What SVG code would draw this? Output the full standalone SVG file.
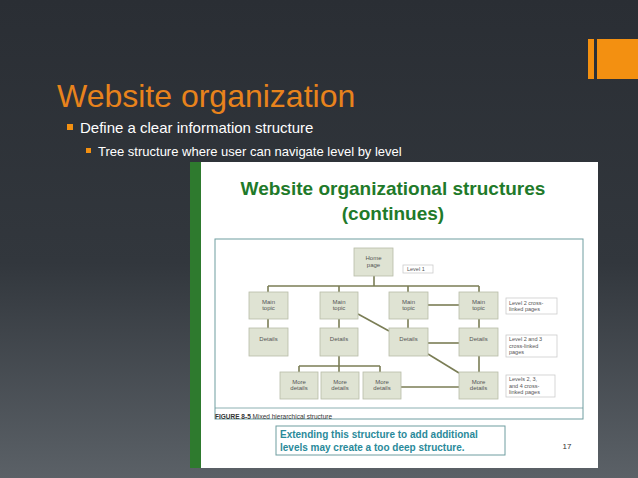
<svg xmlns="http://www.w3.org/2000/svg" width="638" height="478" viewBox="0 0 638 478">
<defs>
<linearGradient id="bg" x1="0" y1="0" x2="0" y2="1"><stop offset="0" stop-color="#2a2e34"/><stop offset="0.55" stop-color="#32373d"/><stop offset="1" stop-color="#5b6167"/></linearGradient>
<style>
.n{fill:#dfe3d3;stroke:#b7bca8;stroke-width:0.8}
.t{font-family:"Liberation Sans",Arial,sans-serif;font-size:6px;fill:#555;text-anchor:middle}
.l{fill:#fff;stroke:#ccc;stroke-width:0.8}
.lt{font-family:"Liberation Sans",Arial,sans-serif;font-size:5.5px;fill:#555}
.c line{stroke:#7a7d55;stroke-width:1.6}
.w{font-family:"Liberation Sans",Arial,sans-serif;fill:#fff}
</style>
</defs>
<rect width="638" height="478" fill="url(#bg)"/>
<rect x="588" y="39" width="6" height="40" fill="#f39011"/>
<rect x="597" y="39" width="41" height="40" fill="#f39011"/>
<text x="57" y="107" font-family="Liberation Sans,Arial,sans-serif" font-size="32" fill="#e8831c">Website organization</text>
<rect x="67" y="124" width="6" height="6" fill="#f39011"/>
<text class="w" x="80" y="133" font-size="15">Define a clear information structure</text>
<rect x="86" y="148" width="5" height="5" fill="#f39011"/>
<text class="w" x="98" y="156" font-size="13">Tree structure where user can navigate level by level</text>
<rect x="190" y="162" width="408" height="306" fill="#fff"/>
<rect x="190" y="162" width="11" height="306" fill="#2e7a2e"/>
<text x="393" y="195" font-family="Liberation Sans,Arial,sans-serif" font-weight="bold" font-size="19" fill="#1f7a2a" text-anchor="middle">Website organizational structures</text>
<text x="393" y="220" font-family="Liberation Sans,Arial,sans-serif" font-weight="bold" font-size="19" fill="#1f7a2a" text-anchor="middle">(continues)</text>
<rect x="215" y="239" width="368" height="180" fill="none" stroke="#6f9da0" stroke-width="1"/>
<line x1="215" y1="408" x2="583" y2="408" stroke="#6f9da0" stroke-width="0.8"/>
<g class="c">
<line x1="374" y1="276" x2="374" y2="286"/>
<line x1="268" y1="286" x2="479" y2="286"/>
<line x1="268" y1="286" x2="268" y2="292"/><line x1="339" y1="286" x2="339" y2="292"/><line x1="408" y1="286" x2="408" y2="292"/><line x1="479" y1="286" x2="479" y2="292"/>
<line x1="428" y1="305" x2="459" y2="305"/>
<line x1="268" y1="319" x2="268" y2="328"/><line x1="339" y1="319" x2="339" y2="328"/><line x1="408" y1="319" x2="408" y2="328"/><line x1="479" y1="319" x2="479" y2="328"/>
<line x1="358" y1="314" x2="389" y2="331"/>
<line x1="428" y1="343" x2="459" y2="343"/>
<line x1="339" y1="356" x2="339" y2="366"/>
<line x1="299" y1="366" x2="380" y2="366"/>
<line x1="299" y1="366" x2="299" y2="372"/><line x1="339" y1="366" x2="339" y2="372"/><line x1="380" y1="366" x2="380" y2="372"/>
<line x1="428" y1="354" x2="459" y2="373"/>
<line x1="479" y1="356" x2="479" y2="372"/>
<line x1="401" y1="387" x2="459" y2="387"/>
</g>
<g id="home"><rect class="n" x="354" y="248" width="39" height="28"/><text class="t" x="373.5" y="260">Home</text><text class="t" x="373.5" y="267">page</text></g>
<g id="m1"><rect class="n" x="249" y="292" width="39" height="27"/><text class="t" x="268.5" y="304">Main</text><text class="t" x="268.5" y="310">topic</text></g>
<g id="m2"><rect class="n" x="320" y="292" width="38" height="27"/><text class="t" x="339" y="304">Main</text><text class="t" x="339" y="310">topic</text></g>
<g id="m3"><rect class="n" x="389" y="292" width="39" height="27"/><text class="t" x="408.5" y="304">Main</text><text class="t" x="408.5" y="310">topic</text></g>
<g id="m4"><rect class="n" x="459" y="292" width="39" height="27"/><text class="t" x="478.5" y="304">Main</text><text class="t" x="478.5" y="310">topic</text></g>
<g id="d1"><rect class="n" x="249" y="328" width="39" height="28"/><text class="t" x="268.5" y="341">Details</text></g>
<g id="d2"><rect class="n" x="320" y="328" width="38" height="28"/><text class="t" x="339" y="341">Details</text></g>
<g id="d3"><rect class="n" x="389" y="328" width="39" height="28"/><text class="t" x="408.5" y="341">Details</text></g>
<g id="d4"><rect class="n" x="459" y="328" width="39" height="28"/><text class="t" x="478.5" y="341">Details</text></g>
<g id="md1"><rect class="n" x="280" y="372" width="38" height="27"/><text class="t" x="299" y="384">More</text><text class="t" x="299" y="390">details</text></g>
<g id="md2"><rect class="n" x="321" y="372" width="38" height="27"/><text class="t" x="340" y="384">More</text><text class="t" x="340" y="390">details</text></g>
<g id="md3"><rect class="n" x="363" y="372" width="38" height="27"/><text class="t" x="382" y="384">More</text><text class="t" x="382" y="390">details</text></g>
<g id="md4"><rect class="n" x="459" y="372" width="39" height="27"/><text class="t" x="478.5" y="384">More</text><text class="t" x="478.5" y="390">details</text></g>
<g id="lv1"><rect class="l" x="403" y="265" width="30" height="8"/><text class="lt" x="407" y="271">Level 1</text></g>
<g id="lv2"><rect class="l" x="506" y="298" width="51" height="16"/><text class="lt" x="509" y="304.5">Level 2 cross-</text><text class="lt" x="509" y="311">linked pages</text></g>
<g id="lv3"><rect class="l" x="506" y="335" width="51" height="22"/><text class="lt" x="509" y="341">Level 2 and 3</text><text class="lt" x="509" y="347.5">cross-linked</text><text class="lt" x="509" y="354">pages</text></g>
<g id="lv4"><rect class="l" x="506" y="375" width="49" height="22"/><text class="lt" x="509" y="381">Levels 2, 3,</text><text class="lt" x="509" y="387.5">and 4 cross-</text><text class="lt" x="509" y="394">linked pages</text></g>
<text x="215" y="419" font-family="Liberation Sans,Arial,sans-serif" font-size="6.5" fill="#333"><tspan font-weight="bold">FIGURE 8-5</tspan>   Mixed hierarchical structure</text>
<rect x="276" y="426" width="229" height="29" fill="#fff" stroke="#6f9da0" stroke-width="1"/>
<text x="280" y="438" font-family="Liberation Sans,Arial,sans-serif" font-weight="bold" font-size="10" fill="#2a8a9a">Extending this structure to add additional</text>
<text x="280" y="451" font-family="Liberation Sans,Arial,sans-serif" font-weight="bold" font-size="10" fill="#2a8a9a">levels may create a too deep structure.</text>
<text x="567" y="449" font-family="Liberation Sans,Arial,sans-serif" font-size="8" fill="#333" text-anchor="middle">17</text>
</svg>
